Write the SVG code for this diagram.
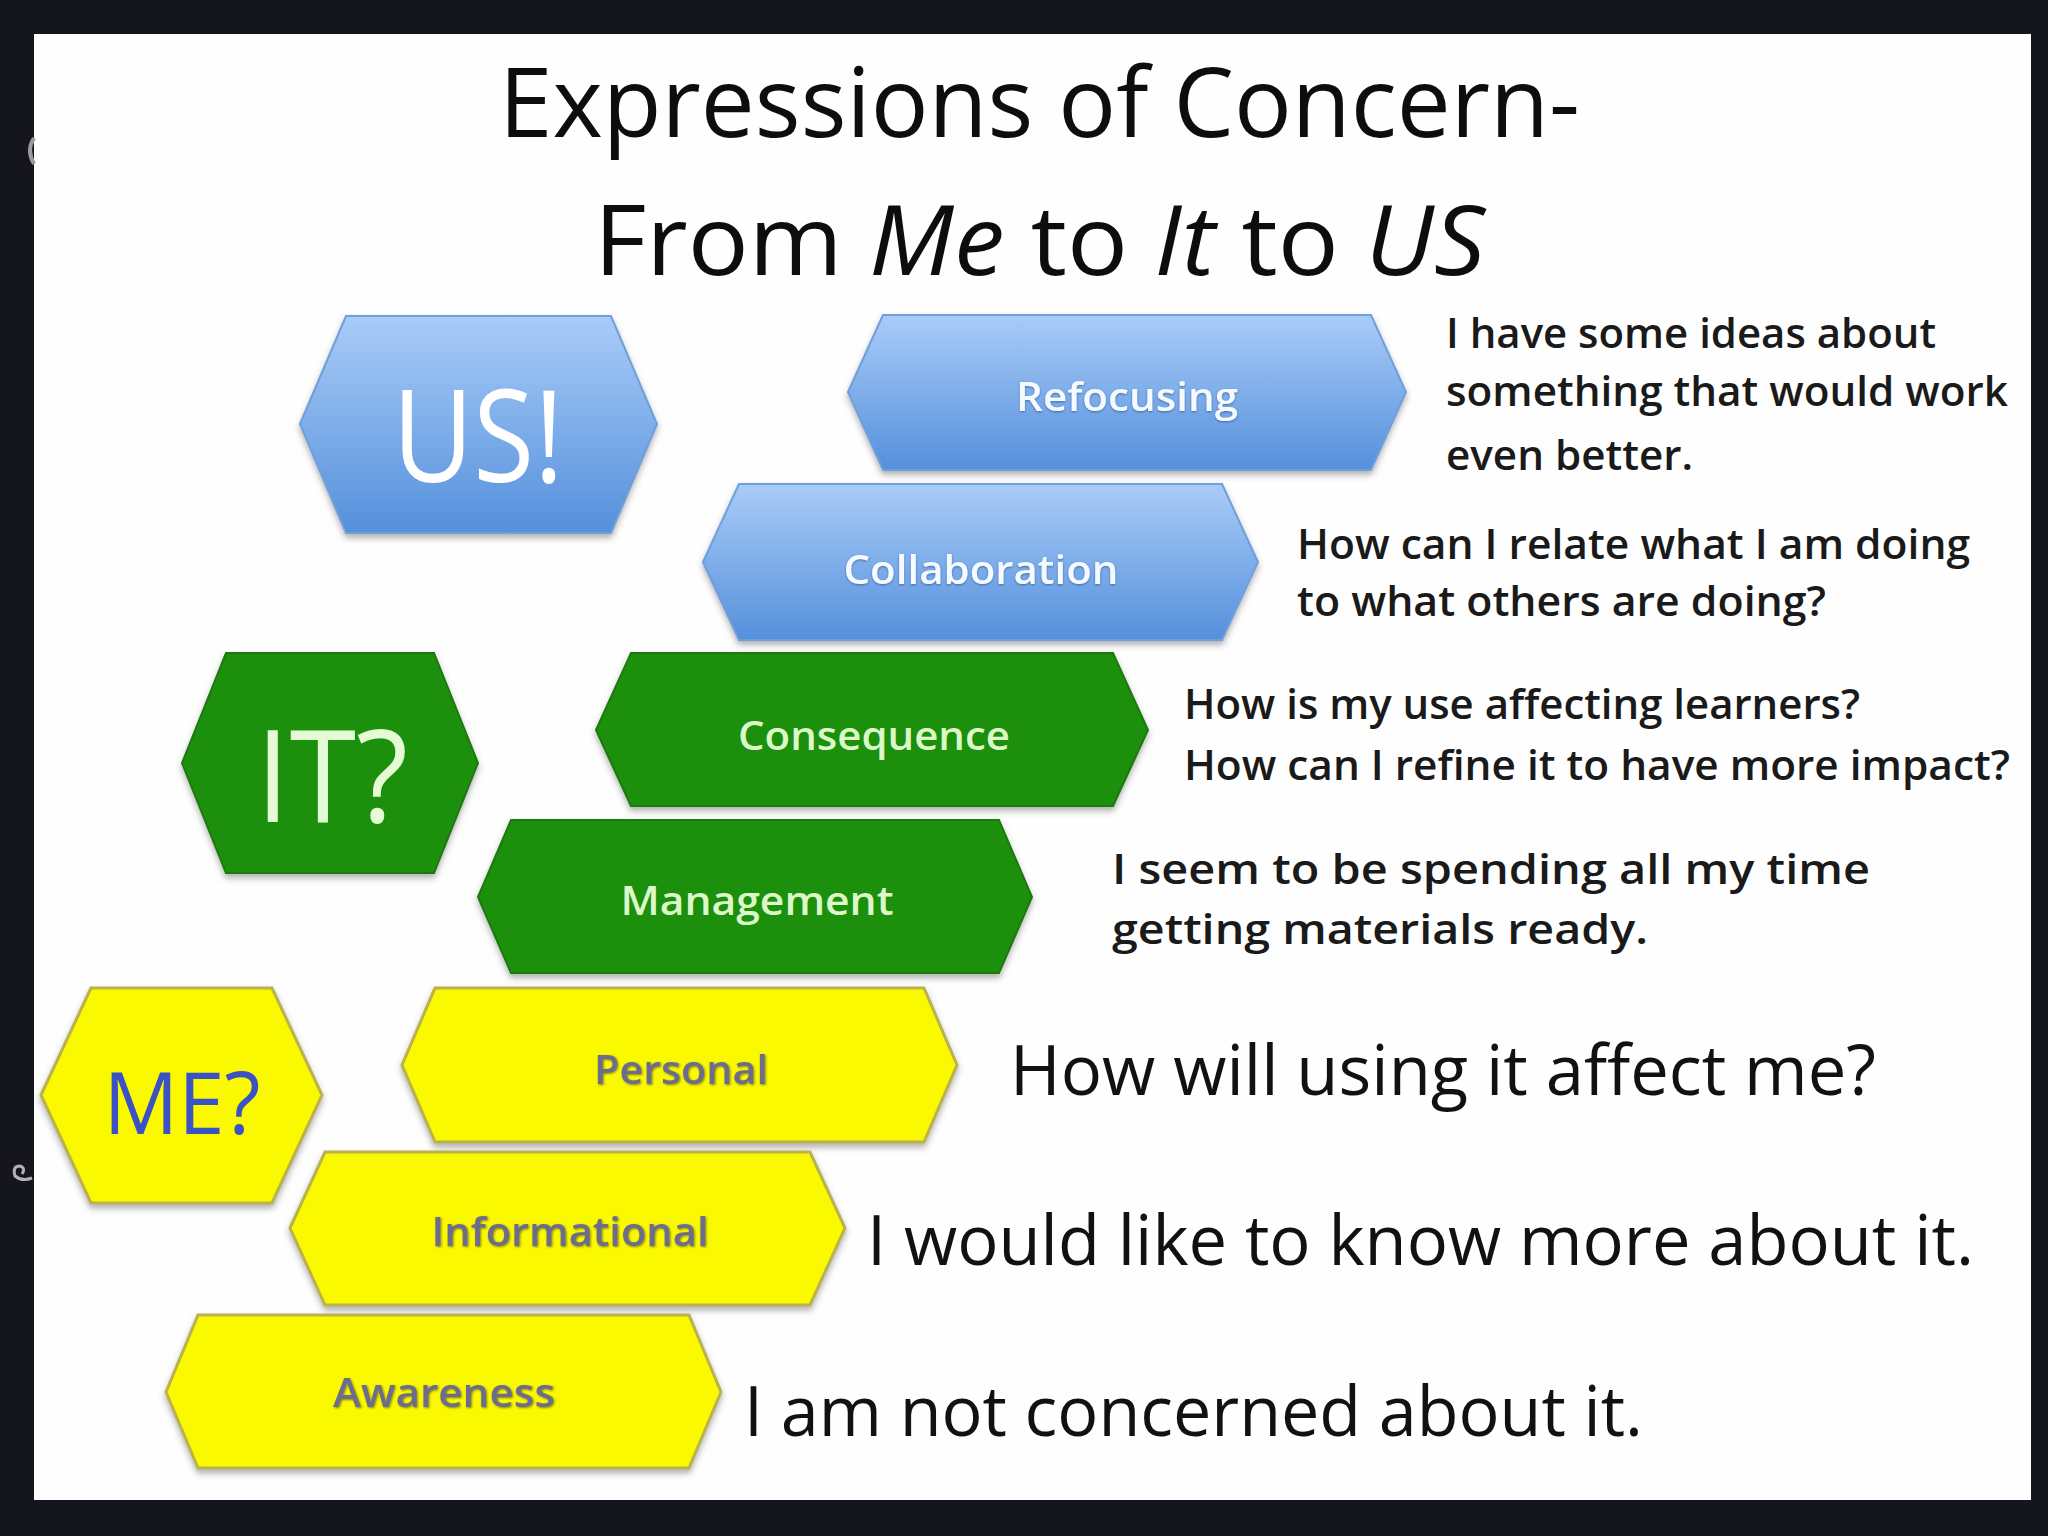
<svg xmlns="http://www.w3.org/2000/svg" width="2048" height="1536" viewBox="0 0 2048 1536">
  <defs>
    <linearGradient id="blueGrad" x1="0" y1="0" x2="0" y2="1">
      <stop offset="0" stop-color="#a9ccf8"/>
      <stop offset="1" stop-color="#5590dc"/>
    </linearGradient>
    <filter id="shadow" x="-10%" y="-10%" width="120%" height="130%">
      <feDropShadow dx="0" dy="4" stdDeviation="3" flood-color="#555" flood-opacity="0.45"/>
    </filter>
    <filter id="glow" x="-10%" y="-30%" width="120%" height="160%">
      <feDropShadow dx="0" dy="1" stdDeviation="1.2" flood-color="#2a4f88" flood-opacity="0.7"/>
    </filter>
    <filter id="tshadow" x="-10%" y="-30%" width="120%" height="160%">
      <feDropShadow dx="1" dy="1" stdDeviation="1" flood-color="#222" flood-opacity="0.55"/>
    </filter>
  </defs>
  <style>
    .blue { fill: url(#blueGrad); stroke: #6f9fdc; stroke-width: 2; filter: url(#shadow); }
    .green { fill: #1f8f0e; stroke: #1a7a0c; stroke-width: 2; filter: url(#shadow); }
    .yellow { fill: #fbf900; stroke: #b9b24e; stroke-width: 3; filter: url(#shadow); }
    .big { font-family: "Open Sans", "Liberation Sans", sans-serif; font-size: 128px; text-anchor: middle; }
    .lbl { font-family: "Open Sans", "Liberation Sans", sans-serif; font-weight: 600; font-size: 40px; text-anchor: middle; }
    .lblB { fill: #f4faff; filter: url(#glow); }
    .lblG { fill: #dcf8c8; }
    .lblY { fill: #6c6c8c; filter: url(#tshadow); }
    .desc { font-family: "Open Sans", "Liberation Sans", sans-serif; font-size: 42px; font-weight: 600; fill: #1a1a1a; }
    .descL { font-family: "Open Sans", "Liberation Sans", sans-serif; font-size: 69px; fill: #111; }
    .title { font-family: "Open Sans", "Liberation Sans", sans-serif; font-size: 97px; fill: #0d0d0d; }
  </style>

  <rect x="0" y="0" width="2048" height="1536" fill="#15161d"/>
  <rect x="34" y="34" width="1997" height="1466" fill="#fefefe"/>
  <path d="M34,138 Q26,150 34,164" fill="none" stroke="#9a9aa0" stroke-width="4"/>
  <path d="M32,1178 Q22,1182 15,1176 Q12,1166 20,1166 Q26,1168 22,1174" fill="none" stroke="#b0b0b6" stroke-width="3"/>

  <g id="title">
    <text class="title" x="499" y="137" textLength="1081" lengthAdjust="spacingAndGlyphs">Expressions of Concern-</text>
    <text class="title" x="594" y="275" textLength="891" lengthAdjust="spacingAndGlyphs">From <tspan font-style="italic">Me</tspan> to <tspan font-style="italic">It</tspan> to <tspan font-style="italic">US</tspan></text>
  </g>

  <g id="node-us">
    <polygon class="blue" points="300,424 346,316 611,316 657,424 611,533 346,533"/>
    <text class="big" x="478" y="482" fill="#ffffff" textLength="171" lengthAdjust="spacingAndGlyphs">US!</text>
  </g>
  <g id="node-refocusing">
    <polygon class="blue" points="848,392 883,315 1371,315 1406,392 1371,470 883,470"/>
    <text class="lbl lblB" x="1127" y="411" textLength="222" lengthAdjust="spacingAndGlyphs">Refocusing</text>
  </g>
  <g id="node-collaboration">
    <polygon class="blue" points="703,562 739,484 1222,484 1258,562 1222,640 739,640"/>
    <text class="lbl lblB" x="981" y="584" textLength="275" lengthAdjust="spacingAndGlyphs">Collaboration</text>
  </g>

  <g id="node-it">
    <polygon class="green" points="182,763 226,653 434,653 478,763 434,873 226,873"/>
    <text class="big" x="332" y="822" fill="#e4fbd6" textLength="152" lengthAdjust="spacingAndGlyphs">IT?</text>
  </g>
  <g id="node-consequence">
    <polygon class="green" points="596,730 631,653 1113,653 1148,730 1113,806 631,806"/>
    <text class="lbl lblG" x="874" y="750" textLength="272" lengthAdjust="spacingAndGlyphs">Consequence</text>
  </g>
  <g id="node-management">
    <polygon class="green" points="478,897 511,820 999,820 1032,897 999,973 511,973"/>
    <text class="lbl lblG" x="757" y="915" textLength="273" lengthAdjust="spacingAndGlyphs">Management</text>
  </g>

  <g id="node-me">
    <polygon class="yellow" points="41,1095 91,988 272,988 322,1095 272,1203 91,1203"/>
    <text x="182" y="1134" fill="#3a52c4" font-family="'Open Sans', 'Liberation Sans', sans-serif" font-size="86" text-anchor="middle" textLength="157" lengthAdjust="spacingAndGlyphs">ME?</text>
  </g>
  <g id="node-personal">
    <polygon class="yellow" points="402,1065 435,988 924,988 957,1065 924,1142 435,1142"/>
    <text class="lbl lblY" x="681" y="1084" textLength="174" lengthAdjust="spacingAndGlyphs">Personal</text>
  </g>
  <g id="node-informational">
    <polygon class="yellow" points="290,1228 325,1152 810,1152 845,1228 810,1305 325,1305"/>
    <text class="lbl lblY" x="570" y="1246" textLength="277" lengthAdjust="spacingAndGlyphs">Informational</text>
  </g>
  <g id="node-awareness">
    <polygon class="yellow" points="166,1392 198,1315 689,1315 721,1392 689,1468 198,1468"/>
    <text class="lbl lblY" x="444" y="1407" textLength="222" lengthAdjust="spacingAndGlyphs">Awareness</text>
  </g>

  <g id="descriptions">
    <text class="desc" x="1446" y="348" textLength="490" lengthAdjust="spacingAndGlyphs">I have some ideas about</text>
    <text class="desc" x="1446" y="406" textLength="562" lengthAdjust="spacingAndGlyphs">something that would work</text>
    <text class="desc" x="1446" y="470" textLength="247" lengthAdjust="spacingAndGlyphs">even better.</text>

    <text class="desc" x="1297" y="559" textLength="673" lengthAdjust="spacingAndGlyphs">How can I relate what I am doing</text>
    <text class="desc" x="1297" y="616" textLength="529" lengthAdjust="spacingAndGlyphs">to what others are doing?</text>

    <text class="desc" x="1184" y="719" textLength="676" lengthAdjust="spacingAndGlyphs">How is my use affecting learners?</text>
    <text class="desc" x="1184" y="780" textLength="826" lengthAdjust="spacingAndGlyphs">How can I refine it to have more impact?</text>

    <text class="desc" x="1112" y="884" font-size="46" textLength="758" lengthAdjust="spacingAndGlyphs">I seem to be spending all my time</text>
    <text class="desc" x="1112" y="944" font-size="46" textLength="536" lengthAdjust="spacingAndGlyphs">getting materials ready.</text>

    <text class="descL" x="1010" y="1095" textLength="866" lengthAdjust="spacingAndGlyphs">How will using it affect me?</text>
    <text class="descL" x="867" y="1265" textLength="1107" lengthAdjust="spacingAndGlyphs">I would like to know more about it.</text>
    <text class="descL" x="744" y="1436" textLength="899" lengthAdjust="spacingAndGlyphs">I am not concerned about it.</text>
  </g>

  <g id="connectors"/>
</svg>
